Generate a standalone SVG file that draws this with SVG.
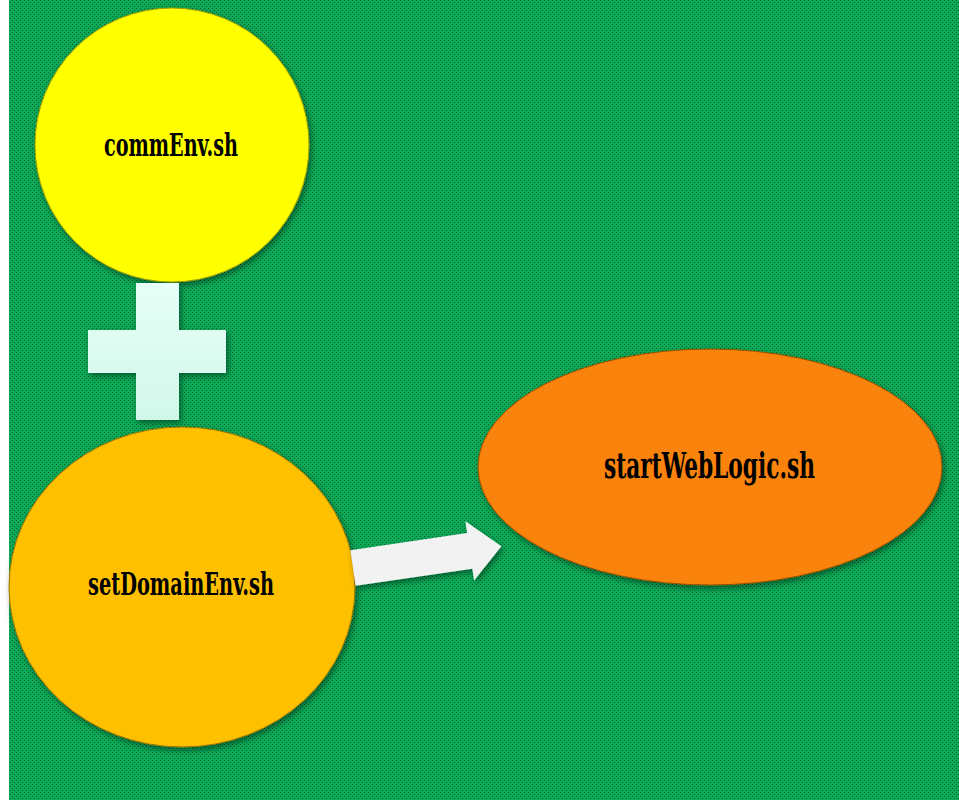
<svg xmlns="http://www.w3.org/2000/svg" width="959" height="800" viewBox="0 0 959 800">
<style>
.lbl{font-family:"DejaVu Serif Condensed","Liberation Serif",serif;font-weight:bold;fill:#000;text-anchor:start}
</style>
<defs>
<pattern id="dots" width="4" height="4" patternUnits="userSpaceOnUse">
<rect width="4" height="4" fill="#0cab58"/>
<rect x="0" y="0" width="1" height="1" fill="#06602f"/>
<rect x="2" y="2" width="1" height="1" fill="#06602f"/>
</pattern>
<filter id="sh" x="-10%" y="-10%" width="125%" height="125%">
<feDropShadow dx="2" dy="3" stdDeviation="3" flood-color="#000" flood-opacity="0.45"/>
</filter>
<linearGradient id="plusg" x1="0" y1="0" x2="0" y2="1">
<stop offset="0" stop-color="#e6fff8"/>
<stop offset="1" stop-color="#d2f7ea"/>
</linearGradient>
</defs>
<rect width="959" height="800" fill="#ffffff"/>
<rect x="9" y="0" width="950" height="800" fill="url(#dots)"/>
<g id="commEnv">
<ellipse cx="172" cy="145" rx="137" ry="137" fill="#ffff00" stroke="#a8a000" stroke-width="1" filter="url(#sh)"/>
<text class="lbl" x="104" y="156" font-size="31" textLength="134" lengthAdjust="spacingAndGlyphs">commEnv.sh</text>
</g>
<g id="plus">
<path d="M136,283 H179 V330 H226 V373 H179 V420 H136 V373 H88 V330 H136 Z" fill="url(#plusg)" filter="url(#sh)"/>
</g>
<g id="setDomainEnv">
<ellipse cx="182" cy="587" rx="173" ry="160" fill="#ffc000" stroke="#a07800" stroke-width="1" filter="url(#sh)"/>
<text class="lbl" x="88" y="595" font-size="31" textLength="186" lengthAdjust="spacingAndGlyphs">setDomainEnv.sh</text>
</g>
<g id="startWebLogic">
<ellipse cx="710" cy="467" rx="232" ry="118" fill="#f98307" stroke="#9a5000" stroke-width="1" filter="url(#sh)"/>
<text class="lbl" x="604" y="478" font-size="35" textLength="211" lengthAdjust="spacingAndGlyphs">startWebLogic.sh</text>
</g>
<g id="connectors">
<polygon points="350.4,550.2 467.1,533.1 465.4,521.2 501.4,546.2 474.1,580.6 472.3,568.7 355.6,585.8" fill="#f2f2f2" filter="url(#sh)"/>
</g>
</svg>
